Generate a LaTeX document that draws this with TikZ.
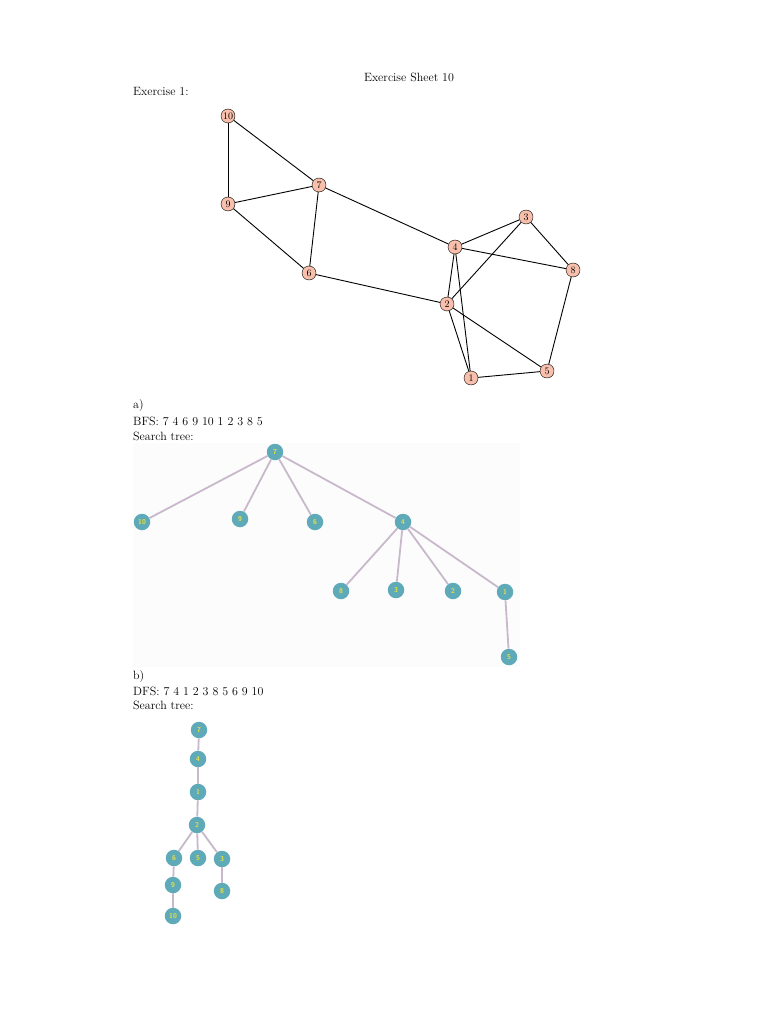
\documentclass[tikz,border=0pt]{standalone}
\usepackage{fontspec}
\definecolor{salmon}{HTML}{F8C0AC}
\definecolor{tealnode}{HTML}{5FAAB8}
\definecolor{yellowtxt}{HTML}{E8E23C}
\definecolor{lilac}{HTML}{C9B8CC}
\tikzset{
  gnode/.style={circle,draw,fill=salmon,minimum size=14pt,inner sep=0pt,font=\fontsize{10}{11}\selectfont},
  tnode/.style={circle,fill=tealnode,minimum size=16.5pt,inner sep=0pt,text=yellowtxt,font=\sffamily\bfseries\fontsize{7}{8}\selectfont},
  tedge/.style={draw=lilac,line width=1.8pt},
  txt/.style={anchor=west,inner sep=0pt,font=\fontsize{12}{14}\selectfont}
}
\begin{document}
\begin{tikzpicture}[x=1pt,y=-1pt]
    \useasboundingbox[fill=white] (0,0) rectangle (768,1024);

    \node[txt,anchor=center] (title) at (409,77) {Exercise Sheet 10};
    \node[txt] (ex1) at (133,91) {Exercise 1:};

    % graph
    \foreach \n/\x/\y in
    {10/228/116,7/319/185,9/228/204,6/309/273,4/455/247,
     3/526/217,8/573/270,2/447/304,1/471/378,5/547/371}
    {\node[gnode] (g\n) at (\x,\y) {\n};}

    \foreach \a/\b in
    {10/9,10/7,9/7,9/6,7/6,7/4,6/2,4/3,4/8,4/2,4/1,3/2,3/8,8/5,2/1,2/5,1/5}
    {\draw[line width=0.9pt] (g\a) -- (g\b);}

    % a)
    \node[txt] (la) at (133,406) {a)};
    \node[txt] (bfs) at (133,421) {BFS: 7 4 6 9 10 1 2 3 8 5};
    \node[txt] (sta) at (133,436) {Search tree:};
    \fill[black!1] (133,443) rectangle (520,667);

    \foreach \n/\x/\y in
    {7/275/452,10/142/522,9/240/519,6/315/522,4/403/522,
     8/341/591,3/396/590,2/453/591,1/505/592,5/509/657}
    {\node[tnode] (b\n) at (\x,\y) {\n};}

    \foreach \a/\b in
    {7/10,7/9,7/6,7/4,4/8,4/3,4/2,4/1,1/5}
    {\path[tedge] (b\a) -- (b\b);}

    % b)
    \node[txt] (lb) at (133,676) {b)};
    \node[txt] (dfs) at (133,691) {DFS: 7 4 1 2 3 8 5 6 9 10};
    \node[txt] (stb) at (133,705) {Search tree:};

    \foreach \n/\x/\y in
    {7/199/730,4/198/759,1/198/792,2/197/825,6/174/858,
     5/198/858,3/222/859,9/173/885,8/222/891,10/173/916}
    {\node[tnode] (d\n) at (\x,\y) {\n};}

    \foreach \a/\b in
    {7/4,4/1,1/2,2/6,2/5,2/3,6/9,9/10,3/8}
    {\path[tedge] (d\a) -- (d\b);}
\end{tikzpicture}
\end{document}
